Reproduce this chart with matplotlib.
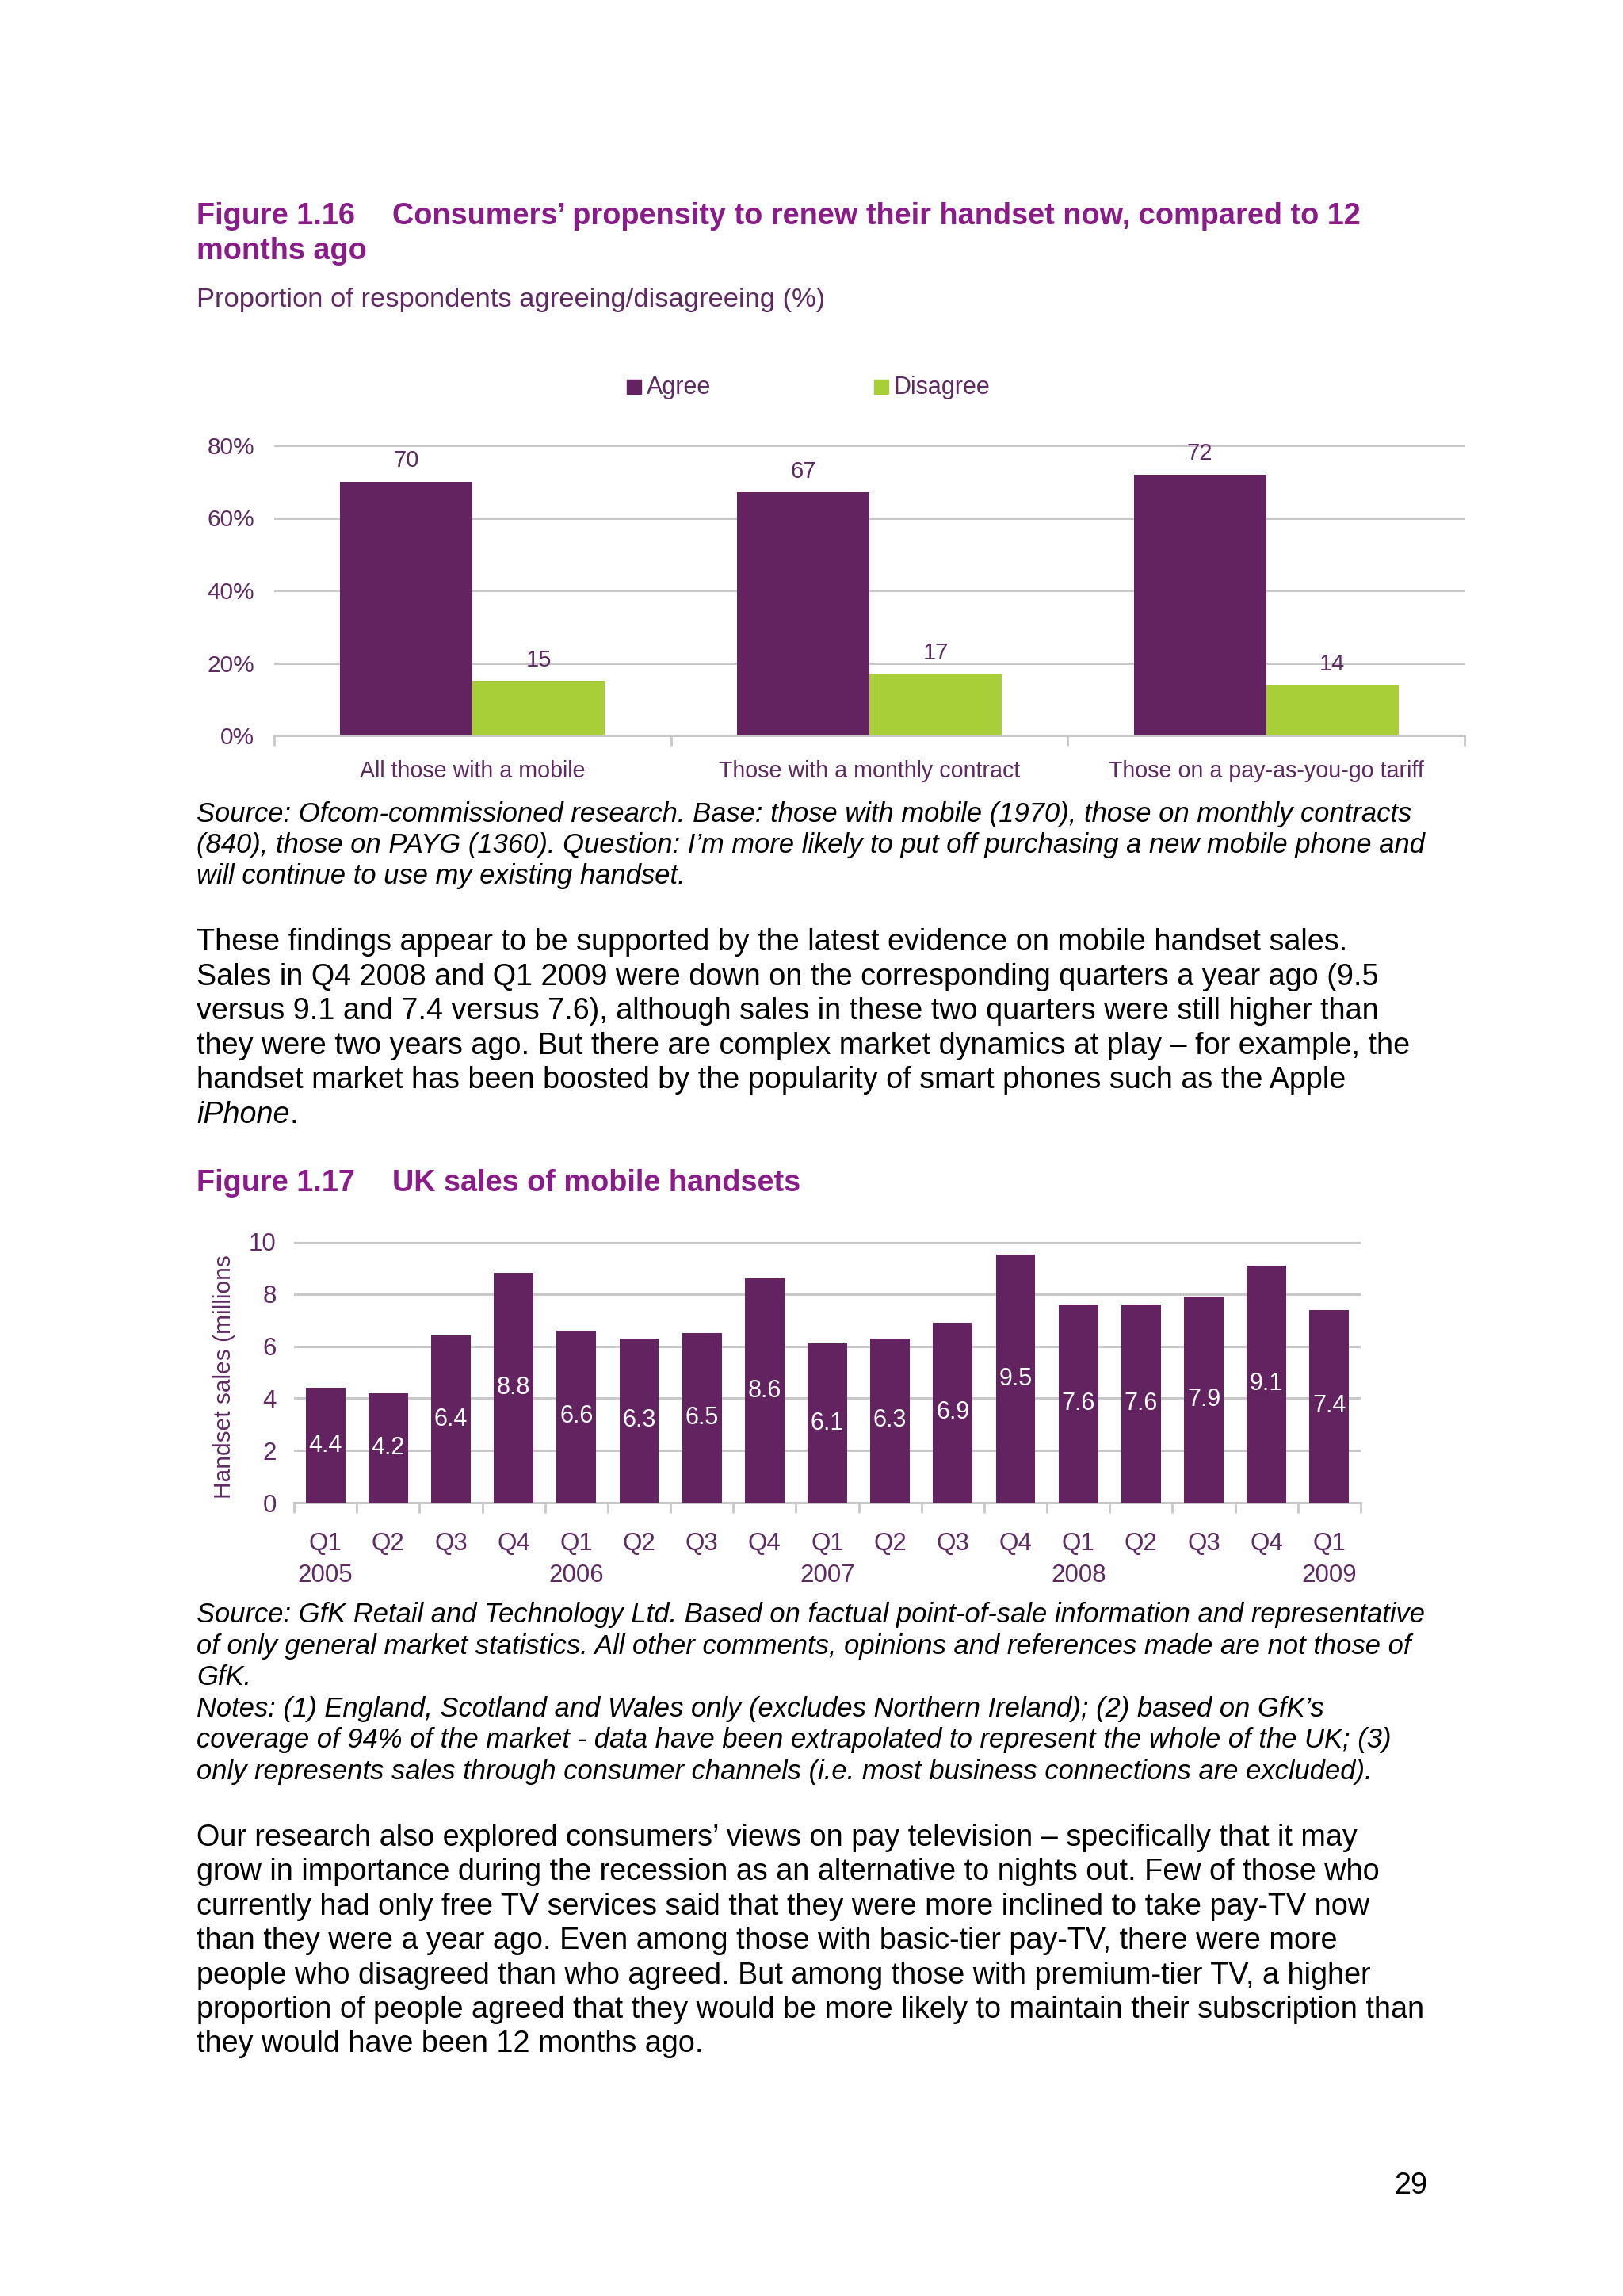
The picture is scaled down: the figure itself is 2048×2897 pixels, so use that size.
import matplotlib
matplotlib.use("Agg")
import matplotlib.pyplot as plt
import numpy as np

plt.rcParams['font.family'] = ['Liberation Sans', 'DejaVu Sans']

# ---------------- data ----------------
fig1_categories = ["All those with a mobile", "Those with a monthly contract", "Those on a pay-as-you-go tariff"]
fig1_agree = [70, 67, 72]
fig1_disagree = [15, 17, 14]
fig1_yticks = [0, 20, 40, 60, 80]
fig1_series = ["Agree", "Disagree"]

fig2_quarters = ["Q1", "Q2", "Q3", "Q4", "Q1", "Q2", "Q3", "Q4", "Q1", "Q2", "Q3", "Q4",
                 "Q1", "Q2", "Q3", "Q4", "Q1"]
fig2_years = ["2005", "", "", "", "2006", "", "", "", "2007", "", "", "", "2008", "", "", "", "2009"]
fig2_sales = [4.4, 4.2, 6.4, 8.8, 6.6, 6.3, 6.5, 8.6, 6.1, 6.3, 6.9, 9.5, 7.6, 7.6, 7.9, 9.1, 7.4]
fig2_yticks = [0, 2, 4, 6, 8, 10]

# ---------------- styles ----------------
W, H = 2048, 2897
PURPLE_BAR = "#622360"
GREEN_BAR = "#A8CF38"
TITLE_COL = "#8A1C8A"
SUB_COL = "#5E2A62"
AX_TXT = "#5E2A62"
GRID = "#C8C8C8"
DY = 3  # small vertical nudge for page text

fig = plt.figure(figsize=(W / 100, H / 100), dpi=100)
fig.patch.set_facecolor("white")


def fx(x):
    return x / W


def fy(y):
    return 1 - y / H


def txt(x, y, s, **kw):
    kw.setdefault("va", "center")
    kw.setdefault("ha", "left")
    fig.text(fx(x), fy(y + DY), s, **kw)


BODY = 27.2
SRC = 24.85
TITLE = 27.3
CH1 = 20.6

# ---------------- Figure 1.16 ----------------
txt(248, 270, "Figure 1.16", fontsize=TITLE, fontweight="bold", color=TITLE_COL)
txt(495, 270, "Consumers\u2019 propensity to renew their handset now, compared to 12",
    fontsize=TITLE, fontweight="bold", color=TITLE_COL)
txt(248, 314, "months ago", fontsize=TITLE, fontweight="bold", color=TITLE_COL)
txt(248, 375, "Proportion of respondents agreeing/disagreeing (%)", fontsize=24.8, color=SUB_COL)

ax1 = fig.add_axes([fx(346), fy(928), (1848 - 346) / W, (928 - 562) / H])
x = np.arange(len(fig1_categories))
bw = 1 / 3
b1 = ax1.bar(x - bw / 2, fig1_agree, width=bw, color=PURPLE_BAR, label=fig1_series[0], zorder=3)
b2 = ax1.bar(x + bw / 2, fig1_disagree, width=bw, color=GREEN_BAR, label=fig1_series[1], zorder=3)
for bars, vals in ((b1, fig1_agree), (b2, fig1_disagree)):
    for r, v in zip(bars, vals):
        ax1.annotate(str(v), (r.get_x() + r.get_width() / 2, v), xytext=(0, 19),
                     textcoords="offset points", ha="center", va="center",
                     fontsize=21, color=AX_TXT)
ax1.set_xlim(-0.5, len(fig1_categories) - 0.5)
ax1.set_ylim(0, 80)
ax1.set_yticks(fig1_yticks)
ax1.set_yticklabels([f"{v}%" for v in fig1_yticks])
ax1.set_xticks(x)
ax1.set_xticklabels(fig1_categories)
ax1.set_xticks(np.arange(-0.5, len(fig1_categories)), minor=True)
ax1.tick_params(axis="x", which="major", length=0, pad=22, labelsize=CH1, labelcolor=AX_TXT)
ax1.tick_params(axis="x", which="minor", length=9, width=2, color=GRID)
ax1.tick_params(axis="y", length=0, pad=18, labelsize=21.5, labelcolor=AX_TXT)
ax1.grid(axis="y", color=GRID, linewidth=2.2, zorder=0)
for s in ("top", "right", "left"):
    ax1.spines[s].set_visible(False)
ax1.spines["bottom"].set_color(GRID)
ax1.spines["bottom"].set_linewidth(2.2)
ax1.set_facecolor("none")

# legend drawn as squares + text
fig.patches.append(plt.Rectangle((fx(791), fy(497)), 18 / W, 18 / H, transform=fig.transFigure,
                                 color=PURPLE_BAR))
txt(816, 486, fig1_series[0], fontsize=22, color=AX_TXT)
fig.patches.append(plt.Rectangle((fx(1103), fy(497)), 18 / W, 18 / H, transform=fig.transFigure,
                                 color=GREEN_BAR))
txt(1128, 486, fig1_series[1], fontsize=22, color=AX_TXT)

src1 = ["Source: Ofcom-commissioned research. Base: those with mobile (1970), those on monthly contracts",
        "(840), those on PAYG (1360). Question: I\u2019m more likely to put off purchasing a new mobile phone and",
        "will continue to use my existing handset."]
for i, line in enumerate(src1):
    txt(248, 1024 + i * 39.5, line, fontsize=SRC, style="italic", color="black")

body1 = ["These findings appear to be supported by the latest evidence on mobile handset sales.",
         "Sales in Q4 2008 and Q1 2009 were down on the corresponding quarters a year ago (9.5",
         "versus 9.1 and 7.4 versus 7.6), although sales in these two quarters were still higher than",
         "they were two years ago. But there are complex market dynamics at play \u2013 for example, the",
         "handset market has been boosted by the popularity of smart phones such as the Apple"]
for i, line in enumerate(body1):
    txt(248, 1186 + i * 43.6, line, fontsize=BODY, color="black")
t = fig.text(fx(248), fy(1186 + 5 * 43.6 + DY), "iPhone", fontsize=BODY, style="italic", color="black",
             va="center", ha="left")
fig.canvas.draw()
bb = t.get_window_extent()
fig.text(bb.x1 / W, fy(1186 + 5 * 43.6 + DY), ".", fontsize=BODY, color="black", va="center", ha="left")

# ---------------- Figure 1.17 ----------------
txt(248, 1490, "Figure 1.17", fontsize=TITLE, fontweight="bold", color=TITLE_COL)
txt(495, 1490, "UK sales of mobile handsets", fontsize=TITLE, fontweight="bold", color=TITLE_COL)

ax2 = fig.add_axes([fx(371), fy(1896), (1717 - 371) / W, (1896 - 1567) / H])
x2 = np.arange(len(fig2_sales))
bars2 = ax2.bar(x2, fig2_sales, width=0.63, color=PURPLE_BAR, zorder=3)
for r, v in zip(bars2, fig2_sales):
    ax2.text(r.get_x() + r.get_width() / 2, v / 2, f"{v:.1f}", ha="center", va="center",
             fontsize=22, color="white", zorder=4)
ax2.set_xlim(-0.5, len(fig2_sales) - 0.5)
ax2.set_ylim(0, 10)
ax2.set_yticks(fig2_yticks)
ax2.set_xticks(x2)
ax2.set_xticklabels([f"{q}\n{y}" for q, y in zip(fig2_quarters, fig2_years)], linespacing=1.4)
ax2.set_xticks(np.arange(-0.5, len(fig2_sales)), minor=True)
ax2.tick_params(axis="x", which="major", length=0, pad=27, labelsize=22.5, labelcolor=AX_TXT)
ax2.tick_params(axis="x", which="minor", length=9, width=2, color=GRID)
ax2.tick_params(axis="y", length=0, pad=16, labelsize=22.5, labelcolor=AX_TXT)
ax2.grid(axis="y", color=GRID, linewidth=2.2, zorder=0)
for s in ("top", "right", "left"):
    ax2.spines[s].set_visible(False)
ax2.spines["bottom"].set_color(GRID)
ax2.spines["bottom"].set_linewidth(2.2)
ax2.set_facecolor("none")
fig.text(fx(283), fy(1737), "Handset sales (millions", rotation=90, fontsize=21.5, color=AX_TXT,
         ha="center", va="center")

src2 = ["Source: GfK Retail and Technology Ltd. Based on factual point-of-sale information and representative",
        "of only general market statistics. All other comments, opinions and references made are not those of",
        "GfK.",
        "Notes: (1) England, Scotland and Wales only (excludes Northern Ireland); (2) based on GfK\u2019s",
        "coverage of 94% of the market - data have been extrapolated to represent the whole of the UK; (3)",
        "only represents sales through consumer channels (i.e. most business connections are excluded)."]
for i, line in enumerate(src2):
    txt(248, 2035 + i * 39.5, line, fontsize=SRC, style="italic", color="black")

body2 = ["Our research also explored consumers\u2019 views on pay television \u2013 specifically that it may",
         "grow in importance during the recession as an alternative to nights out. Few of those who",
         "currently had only free TV services said that they were more inclined to take pay-TV now",
         "than they were a year ago. Even among those with basic-tier pay-TV, there were more",
         "people who disagreed than who agreed. But among those with premium-tier TV, a higher",
         "proportion of people agreed that they would be more likely to maintain their subscription than",
         "they would have been 12 months ago."]
for i, line in enumerate(body2):
    txt(248, 2316 + i * 43.4, line, fontsize=BODY, color="black")

txt(1780, 2755, "29", fontsize=BODY, color="black", ha="center")

fig.savefig("out.png", dpi=100, facecolor="white")
